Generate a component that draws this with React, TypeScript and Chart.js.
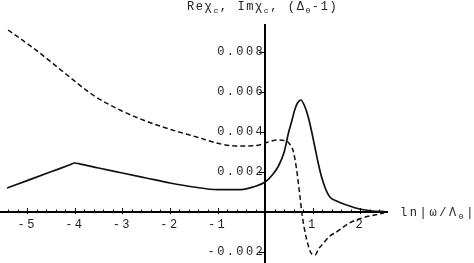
import React, { useEffect, useRef } from "react";
import { Chart, registerables } from "chart.js";

Chart.register(...registerables);

// Re chi_c (solid)
const solidX = [-5.42, -5.0, -4.5, -4.1, -4.0, -3.9, -3.5, -3.0, -2.5, -2.0, -1.5, -1.0, -0.5, -0.25, 0.0, 0.15, 0.28, 0.4, 0.49, 0.56, 0.62, 0.68, 0.75, 0.82, 0.9, 0.97, 1.04, 1.11, 1.18, 1.27, 1.36, 1.5, 1.71, 1.98, 2.25, 2.5];
const solidY = [1.2, 1.57, 2.01, 2.36, 2.45, 2.41, 2.2, 1.95, 1.7, 1.45, 1.25, 1.12, 1.12, 1.25, 1.5, 1.85, 2.3, 3.0, 3.95, 4.55, 5.1, 5.45, 5.6, 5.35, 4.8, 4.1, 3.3, 2.5, 1.8, 1.15, 0.75, 0.55, 0.35, 0.15, 0.05, 0.02];

// Im chi_c (dashed)
const dashX = [-5.4, -4.87, -4.16, -3.62, -3.05, -2.67, -2.15, -1.44, -0.89, -0.53, -0.18, 0.0, 0.14, 0.28, 0.45, 0.53, 0.59, 0.66, 0.73, 0.78, 0.87, 0.98, 1.05, 1.12, 1.21, 1.36, 1.5, 1.77, 2.04, 2.4, 2.5];
const dashY = [9.1, 8.2, 6.85, 5.85, 5.1, 4.7, 4.25, 3.75, 3.38, 3.3, 3.32, 3.45, 3.55, 3.6, 3.55, 3.35, 3.05, 2.15, 0.8, -0.2, -1.35, -2.1, -2.15, -1.85, -1.6, -1.2, -1.0, -0.55, -0.3, -0.1, -0.05];

const xTicks = [-5, -4, -3, -2, -1, 0, 1, 2];
const yTicks = [-0.002, 0.002, 0.004, 0.006, 0.008];
const X_MIN = -5.57;
const X_MAX = 2.56;
const Y_MIN = -0.00255;
const Y_MAX = 0.00935;

const FONT = "'Liberation Mono', 'DejaVu Sans Mono', monospace";

const zeroPad = (s: any) => {
  s.paddingLeft = 0;
  s.paddingRight = 0;
  s.paddingTop = 0;
  s.paddingBottom = 0;
};

export default function App() {
  const ref = useRef<HTMLCanvasElement | null>(null);

  useEffect(() => {
    if (!ref.current) return;
    const spacingPlugin = {
      id: "spacing",
      beforeDraw(chart: any) {
        chart.ctx.letterSpacing = "2.4px";
      },
      afterDraw(chart: any) {
        chart.ctx.letterSpacing = "0px";
      },
    };
    const minorTicks = {
      id: "minorTicks",
      afterDraw(chart: any) {
        const ctx = chart.ctx;
        const xs = chart.scales.x;
        const ys = chart.scales.y;
        const y0 = ys.getPixelForValue(0);
        ctx.save();
        ctx.strokeStyle = "#000";
        ctx.lineWidth = 1;
        for (let i = -27; i <= 12; i++) {
          const v = i / 5;
          if (v < X_MIN || v > X_MAX) continue;
          const px = Math.round(xs.getPixelForValue(v)) + 0.5;
          const major = i % 5 === 0;
          ctx.beginPath();
          ctx.moveTo(px, y0 - (major ? 4 : 2.5));
          ctx.lineTo(px, y0 + (major ? 2 : 0));
          ctx.stroke();
        }
        ctx.restore();
      },
    };
    const chart = new Chart(ref.current, {
      type: "line",
      data: {
        datasets: [
          {
            data: solidX.map((x, i) => ({ x, y: solidY[i] / 1000 })),
            borderColor: "#111",
            borderWidth: 1.7,
            pointRadius: 0,
            cubicInterpolationMode: "monotone",
            fill: false,
          },
          {
            data: dashX.map((x, i) => ({ x, y: dashY[i] / 1000 })),
            borderColor: "#111",
            borderWidth: 1.5,
            borderDash: [5, 3],
            pointRadius: 0,
            cubicInterpolationMode: "monotone",
            fill: false,
          },
        ],
      },
      options: {
        animation: false,
        responsive: false,
        layout: { padding: { left: 0, right: 87, top: 25, bottom: 0 } },
        plugins: { legend: { display: false }, tooltip: { enabled: false }, title: { display: false } },
        scales: {
          x: {
            type: "linear",
            position: { y: 0 },
            min: X_MIN,
            max: X_MAX,
            afterBuildTicks: (s: any) => {
              s.ticks = xTicks.map((v) => ({ value: v }));
            },
            afterFit: zeroPad,
            grid: { display: false, drawOnChartArea: false, drawTicks: false },
            border: { display: true, color: "#000", width: 2 },
            ticks: {
              autoSkip: false,
              maxRotation: 0,
              padding: 6,
              color: "#222",
              font: { family: FONT, size: 12 },
              callback: (v: any) => (v === 0 ? "" : String(v)),
            },
          },
          y: {
            type: "linear",
            position: { x: 0 },
            min: Y_MIN,
            max: Y_MAX,
            afterBuildTicks: (s: any) => {
              s.ticks = yTicks.map((v) => ({ value: v }));
            },
            afterFit: zeroPad,
            grid: { display: true, drawOnChartArea: false, drawTicks: true, tickLength: 5, color: "#000", lineWidth: 1 },
            border: { display: true, color: "#000", width: 2 },
            ticks: {
              autoSkip: false,
              padding: 3,
              color: "#222",
              font: { family: FONT, size: 12 },
              callback: (v: any) => Number(v).toFixed(3),
            },
          },
        },
      } as any,
      plugins: [spacingPlugin, minorTicks],
    });
    return () => chart.destroy();
  }, []);

  return (
    <div style={{ position: "fixed", left: 0, top: 0, width: 474, height: 263, background: "#fff", overflow: "hidden" }}>
      <canvas ref={ref} width={474} height={263} style={{ display: "block" }} />
      <div
        style={{
          position: "absolute",
          left: 187,
          top: -1,
          fontFamily: FONT,
          fontSize: 12,
          letterSpacing: "1.6px",
          color: "#222",
          whiteSpace: "nowrap",
          lineHeight: "16px",
        }}
      >
        Reχ<sub style={{ fontSize: 8 }}>c</sub>, Imχ<sub style={{ fontSize: 8 }}>c</sub>, (Δ<sub style={{ fontSize: 8 }}>0</sub>-1)
      </div>
      <div
        style={{
          position: "absolute",
          left: 400,
          top: 205,
          fontFamily: FONT,
          fontSize: 12,
          letterSpacing: "2.6px",
          color: "#222",
          whiteSpace: "nowrap",
          lineHeight: "16px",
        }}
      >
        ln|ω/Λ<sub style={{ fontSize: 8 }}>0</sub>|
      </div>
    </div>
  );
}
